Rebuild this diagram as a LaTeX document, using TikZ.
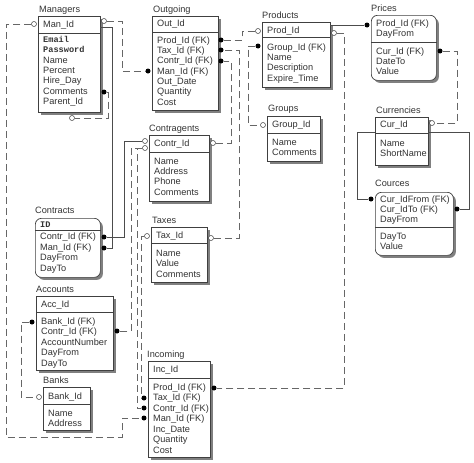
\documentclass[tikz,border=0pt]{standalone}
\usepackage{fontspec}
\setmainfont{Liberation Sans}
\setmonofont{Liberation Mono}
\usetikzlibrary{shadows}

\begin{document}
\begin{tikzpicture}[
	x=1pt, y=-1pt,
	% entity box style
	entity/.style={
		draw=black!75,
		fill=white,
		line width=0.7pt,
		anchor=north west,
		inner sep=0pt,
		drop shadow={shadow xshift=2.5pt, shadow yshift=-2.5pt, fill=black!50, opacity=1}
	},
	% dependent entity (rounded box)
	weak/.style={entity, rounded corners=6pt},
	divider/.style={draw=black!75, line width=0.6pt},
	% texts
	title/.style={
		anchor=west,
		inner sep=0pt,
		text=black!80,
		font=\fontsize{9.2}{11}\selectfont,
		text height=6.6pt,
		text depth=0pt
	},
	attr/.style={title},
	keyattr/.style={attr, font=\ttfamily\bfseries\fontsize{8.6}{10}\selectfont},
	% relationship ends
	pk/.style={circle, draw=black!75, fill=white, line width=0.5pt, inner sep=0pt, minimum size=5pt},
	fk/.style={circle, fill=black, inner sep=0pt, minimum size=5pt},
	% relationship lines
	idrel/.style={draw=black!70, line width=0.7pt},
	nonid/.style={draw=black!60, line width=0.7pt, dash pattern=on 7pt off 4pt}
	]
	\useasboundingbox (0,0) rectangle (474,463);
	
	% ================= MANAGERS =================
	\node[entity, minimum width=62pt, minimum height=96pt] (man) at (38,16) {};
	\draw[divider] (man.west |- 0,33) -- (man.east |- 0,33);
	\node[title] (manT) at (39,9) {Managers};
	\node[attr] (manK) at (43,24) {Man\_Id};
	\node[keyattr] (manE) at (43,39.3) {Email};
	\node[keyattr] (manP) at (43,49.6) {Password};
	\foreach \a [count=\i from 0] in {Name,Percent,Hire\_Day,Comments,Parent\_Id}
		\node[attr] (man\i) at (43,{59.9+10.3*\i}) {\a};
	
	% ================= OUTGOING =================
	\node[entity, minimum width=66pt, minimum height=94pt] (out) at (152,16) {};
	\draw[divider] (out.west |- 0,32) -- (out.east |- 0,32);
	\node[title] (outT) at (153,9) {Outgoing};
	\node[attr] (outK) at (157,23) {Out\_Id};
	\foreach \a [count=\i from 0] in {Prod\_Id (FK),Tax\_Id (FK),Contr\_Id (FK),Man\_Id (FK),Out\_Date,Quantity,Cost}
		\node[attr] (out\i) at (157,{40+10.3*\i}) {\a};
	
	% ================= PRODUCTS =================
	\node[entity, minimum width=68pt, minimum height=65pt] (prod) at (262,22) {};
	\draw[divider] (prod.west |- 0,37) -- (prod.east |- 0,37);
	\node[title] (prodT) at (262,15) {Products};
	\node[attr] (prodK) at (267,30) {Prod\_Id};
	\foreach \a [count=\i from 0] in {Group\_Id (FK),Name,Description,Expire\_Time}
		\node[attr] (prod\i) at (267,{47+10.3*\i}) {\a};
	
	% ================= GROUPS =================
	\node[entity, minimum width=53pt, minimum height=45pt] (grp) at (267,116) {};
	\draw[divider] (grp.west |- 0,133) -- (grp.east |- 0,133);
	\node[title] (grpT) at (268,108) {Groups};
	\node[attr] (grpK) at (272,124) {Group\_Id};
	\foreach \a [count=\i from 0] in {Name,Comments}
		\node[attr] (grp\i) at (272,{142+10.3*\i}) {\a};
	
	% ================= PRICES =================
	\node[weak, minimum width=65pt, minimum height=65pt] (pri) at (371,15) {};
	\draw[divider] (pri.west |- 0,42) -- (pri.east |- 0,42);
	\node[title] (priT) at (371,8) {Prices};
	\node[attr] (priK0) at (376,23) {Prod\_Id (FK)};
	\node[attr] (priK1) at (376,33.5) {DayFrom};
	\foreach \a [count=\i from 0] in {Cur\_Id (FK),DateTo,Value}
		\node[attr] (pri\i) at (376,{51+10.3*\i}) {\a};
	
	% ================= CURRENCIES =================
	\node[entity, minimum width=53pt, minimum height=48pt] (cur) at (375,117) {};
	\draw[divider] (cur.west |- 0,133) -- (cur.east |- 0,133);
	\node[title] (curT) at (376,110) {Currencies};
	\node[attr] (curK) at (380,124) {Cur\_Id};
	\foreach \a [count=\i from 0] in {Name,ShortName}
		\node[attr] (cur\i) at (380,{143+10.5*\i}) {\a};
	
	% ================= COURCES =================
	\node[weak, minimum width=78pt, minimum height=63pt] (cou) at (375,192) {};
	\draw[divider] (cou.west |- 0,227) -- (cou.east |- 0,227);
	\node[title] (couT) at (375,183) {Cources};
	\foreach \a [count=\i from 0] in {Cur\_IdFrom (FK),Cur\_IdTo (FK),DayFrom}
		\node[attr] (couK\i) at (380,{199+10.2*\i}) {\a};
	\foreach \a [count=\i from 0] in {DayTo,Value}
		\node[attr] (cou\i) at (380,{236+10.5*\i}) {\a};
	
	% ================= CONTRAGENTS =================
	\node[entity, minimum width=60pt, minimum height=66pt] (con) at (149,135) {};
	\draw[divider] (con.west |- 0,152) -- (con.east |- 0,152);
	\node[title] (conT) at (149,128) {Contragents};
	\node[attr] (conK) at (154,143) {Contr\_Id};
	\foreach \a [count=\i from 0] in {Name,Address,Phone,Comments}
		\node[attr] (con\i) at (154,{161+10.3*\i}) {\a};
	
	% ================= TAXES =================
	\node[entity, minimum width=56pt, minimum height=55pt] (tax) at (151,227) {};
	\draw[divider] (tax.west |- 0,243) -- (tax.east |- 0,243);
	\node[title] (taxT) at (152,220) {Taxes};
	\node[attr] (taxK) at (156,235) {Tax\_Id};
	\foreach \a [count=\i from 0] in {Name,Value,Comments}
		\node[attr] (tax\i) at (156,{253+10.5*\i}) {\a};
	
	% ================= CONTRACTS =================
	\node[weak, minimum width=65pt, minimum height=59pt] (ctr) at (35,218) {};
	\draw[divider] (ctr.west |- 0,230) -- (ctr.east |- 0,230);
	\node[title] (ctrT) at (35,210) {Contracts};
	\node[keyattr] (ctrK) at (40,224.5) {ID};
	\foreach \a [count=\i from 0] in {Contr\_Id (FK),Man\_Id (FK),DayFrom,DayTo}
		\node[attr] (ctr\i) at (40,{236.5+10.5*\i}) {\a};
	
	% ================= ACCOUNTS =================
	\node[entity, minimum width=77pt, minimum height=74pt] (acc) at (36,296) {};
	\draw[divider] (acc.west |- 0,312) -- (acc.east |- 0,312);
	\node[title] (accT) at (36,289) {Accounts};
	\node[attr] (accK) at (41,304) {Acc\_Id};
	\foreach \a [count=\i from 0] in {Bank\_Id (FK),Contr\_Id (FK),AccountNumber,DayFrom,DayTo}
		\node[attr] (acc\i) at (41,{321+10.5*\i}) {\a};
	
	% ================= BANKS =================
	\node[entity, minimum width=47pt, minimum height=43pt] (bnk) at (43,387) {};
	\draw[divider] (bnk.west |- 0,404) -- (bnk.east |- 0,404);
	\node[title] (bnkT) at (43,380) {Banks};
	\node[attr] (bnkK) at (48,396) {Bank\_Id};
	\foreach \a [count=\i from 0] in {Name,Address}
		\node[attr] (bnk\i) at (48,{413+10.5*\i}) {\a};
	
	% ================= INCOMING =================
	\node[entity, minimum width=62pt, minimum height=96pt] (inc) at (148,361) {};
	\draw[divider] (inc.west |- 0,378) -- (inc.east |- 0,378);
	\node[title] (incT) at (147,354) {Incoming};
	\node[attr] (incK) at (153,369) {Inc\_Id};
	\foreach \a [count=\i from 0] in {Prod\_Id (FK),Tax\_Id (FK),Contr\_Id (FK),Man\_Id (FK),Inc\_Date,Quantity,Cost}
		\node[attr] (inc\i) at (153,{387+10.5*\i}) {\a};
	
	% ================= RELATIONSHIP ENDS =================
	\node[pk] (manPKr) at (104,21) {};
	\node[pk] (manPKl) at (34,24) {};
	\node[pk] (manPKb) at (72,118) {};
	\node[fk] (manFKpar) at (104,92) {};
	\coordinate (manS) at (100,27);
	
	\node[fk] (outFKprod) at (221,40) {};
	\node[fk] (outFKtax) at (221,50) {};
	\node[fk] (outFKcon) at (221,61) {};
	\node[fk] (outFKman) at (148,71) {};
	
	\node[pk] (prodPKl) at (258,31) {};
	\node[fk] (prodFKgrp) at (258,46) {};
	\node[pk] (prodPKr) at (334,33) {};
	\coordinate (prodS) at (330,25);
	
	\node[pk] (grpPK) at (263,125) {};
	
	\node[fk] (priFKprod) at (367,25) {};
	\node[fk] (priFKcur) at (440,51) {};
	
	\node[pk] (curPK) at (432,123) {};
	\coordinate (curSl) at (375,132);
	\coordinate (curSr) at (428,132);
	
	\node[fk] (couFKfrom) at (371,199) {};
	\node[fk] (couFKto) at (457,209) {};
	
	\node[pk] (conPKs) at (145,141) {};
	\node[pk] (conPKd) at (145,148) {};
	\node[pk] (conPKr) at (213,143) {};
	
	\node[pk] (taxPKl) at (147,236) {};
	\node[pk] (taxPKr) at (211,238) {};
	
	\node[fk] (ctrFKcon) at (104,237) {};
	\node[fk] (ctrFKman) at (104,248) {};
	
	\node[fk] (accFKbnk) at (32,322) {};
	\node[fk] (accFKcon) at (117,331) {};
	
	\node[pk] (bnkPK) at (39,397) {};
	
	\node[fk] (incFKprod) at (214,388) {};
	\node[fk] (incFKtax) at (144,398) {};
	\node[fk] (incFKcon) at (144,408) {};
	\node[fk] (incFKman) at (144,418) {};
	
	% ================= RELATIONSHIPS =================
	% identifying (solid)
	\draw[idrel] (manS) -| (112,248) -- (ctrFKman);
	\draw[idrel] (conPKs) -| (124,237) -- (ctrFKcon);
	\draw[idrel] (prodS) -- (priFKprod);
	\draw[idrel] (curSl) -| (357,199) -- (couFKfrom);
	\draw[idrel] (curSr) -| (469,209) -- (couFKto);
	
	% non-identifying (dashed)
	\draw[nonid] (manPKr) -| (122,71) -- (outFKman);
	\draw[nonid] (manPKl) -- (6,24) -- (6,437) -- (122,437) |- (incFKman);
	\draw[nonid] (manFKpar) -| (108,118) -- (manPKb);
	\draw[nonid] (conPKd) -| (137,408) -- (incFKcon);
	\draw[nonid] (conPKd) -| (131,331) -- (accFKcon);
	\draw[nonid] (conPKr) -| (231,61) -- (outFKcon);
	\draw[nonid] (taxPKl) -| (141,398) -- (incFKtax);
	\draw[nonid] (taxPKr) -| (239,50) -- (outFKtax);
	\draw[nonid] (outFKprod) -| (242,31) -- (prodPKl);
	\draw[nonid] (prodFKgrp) -| (248,125) -- (grpPK);
	\draw[nonid] (prodPKr) -| (344,388) -- (incFKprod);
	\draw[nonid] (priFKcur) -| (457,123) -- (curPK);
	\draw[nonid] (accFKbnk) -| (21,397) -- (bnkPK);
	
\end{tikzpicture}
\end{document}
